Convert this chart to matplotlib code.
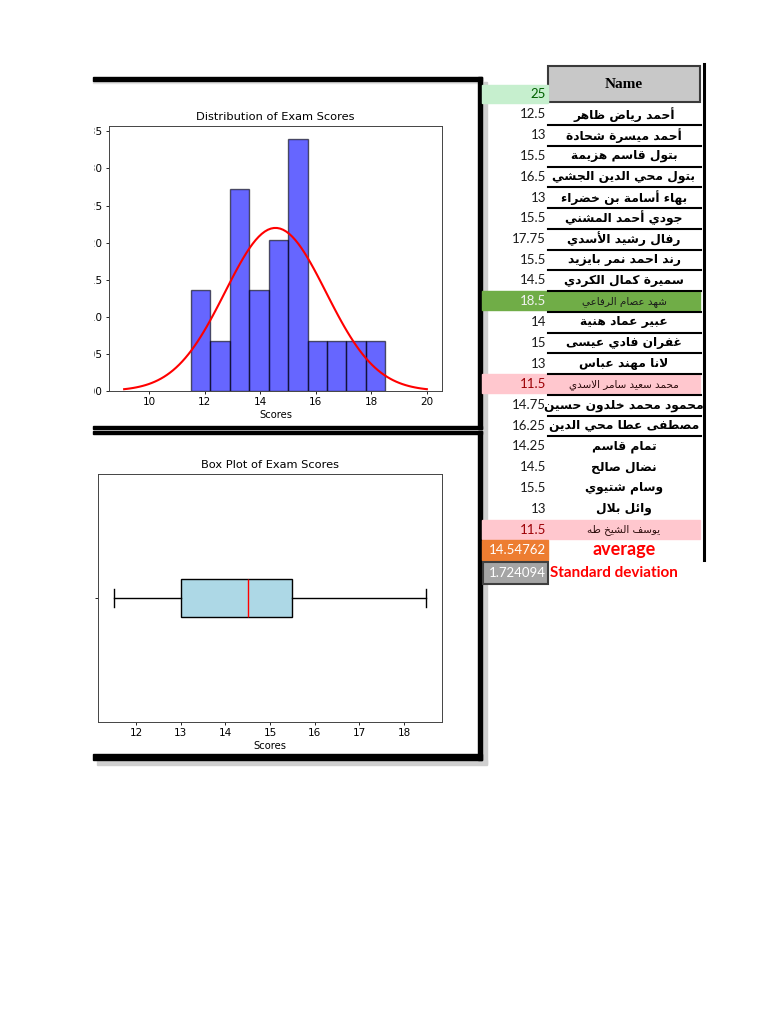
import numpy as np
import matplotlib
matplotlib.use("Agg")
from matplotlib import pyplot as plt
from matplotlib.patches import Rectangle

# data
names = [
    "أحمد رياض ظاهر", "أحمد ميسرة شحادة", "بتول قاسم هزيمة", "بتول محي الدين الجشي",
    "بهاء أسامة بن خضراء", "جودي أحمد المشني", "رفال رشيد الأسدي", "رند احمد نمر بايزيد",
    "سميرة كمال الكردي", "شهد عصام الرفاعي", "عبير عماد هنية", "غفران فادي عيسى",
    "لانا مهند عباس", "محمد سعيد سامر الاسدي", "محمود محمد خلدون حسين", "مصطفى عطا محي الدين",
    "تمام قاسم", "نضال صالح", "وسام شتيوي", "وائل بلال", "يوسف الشيخ طه",
]
scores = [12.5, 13, 15.5, 16.5, 13, 15.5, 17.75, 15.5, 14.5, 18.5, 14,
          15, 13, 11.5, 14.75, 16.25, 14.25, 14.5, 15.5, 13, 11.5]
count_label = "25"
average_label = "14.54762"
std_label = "1.724094"
# normal fit drawn over the histogram (population mean / std of the scores)
fit_mu = 14.548
fit_sigma = 1.815

# Arabic shaping (matplotlib has no complex text layout)
FORMS = {
    'ء': (0xFE80, 0), 'آ': (0xFE81, 1), 'أ': (0xFE83, 1), 'ؤ': (0xFE85, 1), 'إ': (0xFE87, 1),
    'ئ': (0xFE89, 2), 'ا': (0xFE8D, 1), 'ب': (0xFE8F, 2), 'ة': (0xFE93, 1), 'ت': (0xFE95, 2),
    'ث': (0xFE99, 2), 'ج': (0xFE9D, 2), 'ح': (0xFEA1, 2), 'خ': (0xFEA5, 2), 'د': (0xFEA9, 1),
    'ذ': (0xFEAB, 1), 'ر': (0xFEAD, 1), 'ز': (0xFEAF, 1), 'س': (0xFEB1, 2), 'ش': (0xFEB5, 2),
    'ص': (0xFEB9, 2), 'ض': (0xFEBD, 2), 'ط': (0xFEC1, 2), 'ظ': (0xFEC5, 2), 'ع': (0xFEC9, 2),
    'غ': (0xFECD, 2), 'ف': (0xFED1, 2), 'ق': (0xFED5, 2), 'ك': (0xFED9, 2), 'ل': (0xFEDD, 2),
    'م': (0xFEE1, 2), 'ن': (0xFEE5, 2), 'ه': (0xFEE9, 2), 'و': (0xFEED, 1), 'ى': (0xFEEF, 1),
    'ي': (0xFEF1, 2),
}
LAM_ALEF = {'آ': 0xFEF5, 'أ': 0xFEF7, 'إ': 0xFEF9, 'ا': 0xFEFB}


def shape(text):
    tokens = []
    i = 0
    while i < len(text):
        c = text[i]
        if c == 'ل' and i + 1 < len(text) and text[i + 1] in LAM_ALEF:
            tokens.append((LAM_ALEF[text[i + 1]], 1))
            i += 2
            continue
        tokens.append(FORMS.get(c, (c, None)))
        i += 1
    out = []
    for k, (b, t) in enumerate(tokens):
        if t is None:
            out.append(b)
            continue
        prev = tokens[k - 1][1] if k > 0 else None
        nxt = tokens[k + 1][1] if k + 1 < len(tokens) else None
        jp = t in (1, 2) and prev == 2
        jn = t == 2 and nxt in (1, 2)
        off = 3 if (jp and jn) else 1 if jp else 2 if jn else 0
        out.append(chr(b + off))
    return "".join(reversed(out))


W, H = 768, 1024
fig = plt.figure(figsize=(W / 100, H / 100), dpi=100)


def box(x0, y0, x1, y1):
    return [x0 / W, 1 - y1 / H, (x1 - x0) / W, (y1 - y0) / H]


tick_fs = 7.5
# histogram
ax1 = fig.add_axes(box(109, 126, 442, 391))
ax1.hist(scores, bins=10, density=True, alpha=0.6, color='b', edgecolor='black')
x = np.linspace(fit_mu - 3 * fit_sigma, fit_mu + 3 * fit_sigma, 100)
p = np.exp(-0.5 * ((x - fit_mu) / fit_sigma) ** 2) / (fit_sigma * np.sqrt(2 * np.pi))
ax1.plot(x, p, 'r', linewidth=1.5)
ax1.set_title("Distribution of Exam Scores", fontsize=8.2, pad=4)
ax1.set_xlabel("Scores", fontsize=7.2, labelpad=2)
ax1.set_yticks(np.arange(0, 0.36, 0.05))
ax1.yaxis.set_major_formatter(matplotlib.ticker.FormatStrFormatter('%.2f'))

# box plot
ax2 = fig.add_axes(box(98, 474, 442, 722))
ax2.boxplot(scores, orientation='horizontal', patch_artist=True, widths=0.15,
            boxprops=dict(facecolor='lightblue', color='black'),
            medianprops=dict(color='red'))
ax2.set_title("Box Plot of Exam Scores", fontsize=8.2, pad=4)
ax2.set_xlabel("Scores", fontsize=7.2, labelpad=2)

for ax in (ax1, ax2):
    ax.tick_params(labelsize=tick_fs, length=2.5, width=0.6, pad=2)
    for s in ax.spines.values():
        s.set_linewidth(0.7)
        s.set_color('#444444')

# overlay in pixel coordinates
ov = fig.add_axes([0, 0, 1, 1], zorder=5)
ov.set_xlim(0, W)
ov.set_ylim(H, 0)
ov.axis('off')

# crop of the screenshot on the left
ov.add_patch(Rectangle((0, 60), 93, 720, color='white'))

# panel frames with a light shadow
ov.add_patch(Rectangle((482, 82), 5, 682, color='#cfcfcf'))
ov.add_patch(Rectangle((97, 760), 390, 5, color='#cfcfcf'))
ov.add_patch(Rectangle((93, 80), 385, 3, color='#e2e2e2'))
for (x0, y0, w, h) in [(93, 77, 389, 4), (478, 77, 4, 352), (93, 426, 389, 3),
                       (93, 431, 389, 3), (478, 431, 4, 329), (93, 754, 389, 6)]:
    ov.add_patch(Rectangle((x0, y0), w, h, color='black'))

# table
y0, step = 114.5, 20.75
ys = [y0 + step * i for i in range(len(scores))]
num_x = 546
name_x = 624
num_font = dict(family='Lato', fontsize=9.5, ha='right', va='center')

ov.add_patch(Rectangle((548, 66), 152, 36, facecolor='#c8c8c8', edgecolor='#3a3a3a', lw=1.5))
ov.text(name_x, 84, "Name", family='Liberation Serif', weight='bold', fontsize=11,
        ha='center', va='center')
ov.add_patch(Rectangle((482, 85), 66, 18, color='#c6efce'))
ov.text(num_x, 94, count_label, color='#006100', **num_font)

for i, (nm, sc) in enumerate(zip(names, scores)):
    y = ys[i]
    label = f"{sc:g}"
    if i == 9:
        ov.add_patch(Rectangle((482, y - 10), 218, 19, color='#70ad47'))
        ov.text(num_x, y, label, color='#f2f2f2', **num_font)
        ov.text(name_x, y, shape(nm), family='DejaVu Sans', fontsize=7.5,
                color='#1a1a1a', ha='center', va='center')
    elif sc == 11.5:
        ov.add_patch(Rectangle((482, y - 10), 218, 19, color='#ffc7ce'))
        ov.text(num_x, y, label, color='#9c0006', **num_font)
        ov.text(name_x, y, shape(nm), family='DejaVu Sans', fontsize=7.5,
                color='#2a0a0a', ha='center', va='center')
    else:
        ov.text(num_x, y, label, color='#1a1a1a', **num_font)
        ov.text(name_x, y, shape(nm), family='DejaVu Sans', weight='bold', fontsize=8.8,
                color='black', ha='center', va='center')
    if i <= 15:
        ov.plot([548, 701], [y + 10.5, y + 10.5], color='black', lw=1.5)

ov.plot([703.5, 703.5], [64, 560], color='black', lw=2.2)

# summary cells
ov.add_patch(Rectangle((482, 540), 66, 20, color='#ed7d31'))
ov.text(num_x, 550, average_label, color='white', **num_font)
ov.text(624, 550, "average", family='Lato', weight='bold', fontsize=13,
        color='#ff0000', ha='center', va='center')
ov.add_patch(Rectangle((483, 562), 65, 22, facecolor='#a5a5a5', edgecolor='#3f3f3f', lw=1.5))
ov.text(num_x, 573, std_label, color='white', **num_font)
ov.text(550, 573, "Standard deviation", family='Lato', weight='bold', fontsize=11,
        color='#ff0000', ha='left', va='center')

fig.savefig("out.png", dpi=100)
plt.close(fig)
